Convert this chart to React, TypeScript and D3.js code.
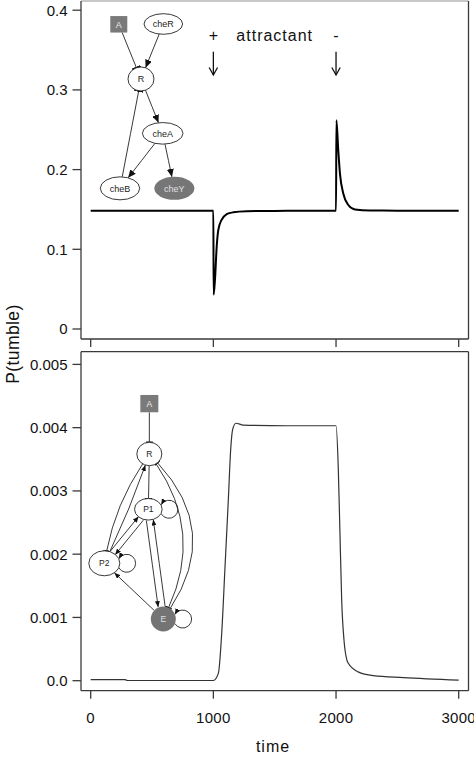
import * as d3 from 'd3';

const W = 474;
const H = 757;

// top panel: P(tumble) for the che network, attractant added at 1000, removed at 2000
const topTime = [0, 1000, 1002, 1013, 1027, 1040, 1067, 1108, 1162, 1271, 1500, 2000, 2003, 2018, 2032, 2059, 2100, 2154, 2276, 2500, 3000];
const topP = [0.1485, 0.1485, 0.043, 0.0615, 0.103, 0.124, 0.137, 0.144, 0.1464, 0.1477, 0.1482, 0.1485, 0.262, 0.2246, 0.195, 0.17, 0.1556, 0.15, 0.1486, 0.1485, 0.1485];

// bottom panel: P(tumble) for the evolved network
const botTime = [0, 280, 300, 1000, 1041, 1068, 1095, 1122, 1141, 1157, 1184, 1244, 1600, 2000, 2018, 2032, 2046, 2065, 2088, 2100, 2180, 2304, 2550, 3000];
const botP = [0.000016, 0.000016, 0.000003, 0.000003, 0.00012, 0.00075, 0.0018, 0.00286, 0.00365, 0.00397, 0.00407, 0.00404, 0.00403, 0.00403, 0.00338, 0.00233, 0.00128, 0.00064, 0.00033, 0.000275, 0.00014, 0.00008, 0.00005, 0.00001];

const xTicks = [0, 1000, 2000, 3000];
const xTickLabels = ['0', '1000', '2000', '3000'];
const topYTicks = [0, 0.1, 0.2, 0.3, 0.4];
const topYLabels = ['0', '0.1', '0.2', '0.3', '0.4'];
const botYTicks = [0, 0.001, 0.002, 0.003, 0.004, 0.005];
const botYLabels = ['0.0', '0.001', '0.002', '0.003', '0.004', '0.005'];

// network insets, node positions given in each panel's data units
const topNodeNames = ['A', 'cheR', 'R', 'cheA', 'cheB', 'cheY'];
const topNodeTime = [229, 592, 410, 587, 239, 682];
const topNodeP = [0.3823, 0.3827, 0.3137, 0.2455, 0.1765, 0.1765];
const topEdges: [string, string, string][] = [
	['A', 'R', 'inh'],
	['cheR', 'R', 'act'],
	['R', 'cheA', 'act'],
	['cheA', 'cheB', 'act'],
	['cheA', 'cheY', 'act'],
	['cheB', 'R', 'inh'],
];

const botNodeNames = ['A', 'R', 'P1', 'P2', 'E'];
const botNodeTime = [478, 478, 470, 111, 592];
const botNodeP = [0.00438, 0.003584, 0.00271, 0.001856, 0.000975];
const botEdges: [string, string, string][] = [
	['A', 'R', 'inh'],
	['R', 'P1', 'inh'],
	['R', 'P2', 'inh'],
	['P2', 'R', 'act'],
	['P2', 'P1', 'act'],
	['P1', 'P2', 'act'],
	['E', 'P2', 'act'],
	['P1', 'E', 'act'],
	['E', 'P1', 'act'],
	['R', 'E', 'inh'],
	['E', 'R', 'inh'],
];
const botLoops = ['P1', 'P2', 'E'];

// drawing style for the insets
const nodeStyle: Record<string, any> = {
	'top:A': { rect: true, w: 17, h: 16.5, fill: '#7a7a7a', color: '#eee' },
	'top:cheR': { rx: 19.3, ry: 10.3 },
	'top:R': { rx: 13, ry: 12 },
	'top:cheA': { rx: 20.3, ry: 10.8 },
	'top:cheB': { rx: 19.7, ry: 11.5 },
	'top:cheY': { rx: 20, ry: 11.5, fill: '#767676', color: '#e0e0e0' },
	'bot:A': { rect: true, w: 18, h: 17.3, fill: '#7a7a7a', color: '#eee' },
	'bot:R': { rx: 12.5, ry: 11.7 },
	'bot:P1': { rx: 13.8, ry: 10.8 },
	'bot:P2': { rx: 15.5, ry: 12.5 },
	'bot:E': { rx: 12.5, ry: 12.5, fill: '#747474', color: '#e0e0e0' },
};
// curvature / parallel offset per edge (pixels)
const edgeShape: Record<string, [number, number]> = {
	'R-P2': [12, 0],
	'P2-R': [3, 0],
	'P2-P1': [0, -3],
	'P1-P2': [0, -3],
	'P1-E': [0, 3.5],
	'E-P1': [0, 3.5],
	'R-E': [-47, 0],
	'E-R': [65, 0],
};

const FONT = 'Liberation Sans, Arial, sans-serif';

const x = d3.scaleLinear().domain([0, 3000]).range([90.7, 458.7]);
const yTop = d3.scaleLinear().domain([0, 0.4]).range([329, 10.2]);
const yBot = d3.scaleLinear().domain([0, 0.005]).range([680.7, 364.4]);

const topFrame = { x0: 81, x1: 468.5, y0: 1, y1: 339 };
const botFrame = { x0: 81, x1: 468.5, y0: 351.7, y1: 690.7 };

type Node = { name: string; cx: number; cy: number; st: any };

function rim(n: Node, cx: number, cy: number, dx: number, dy: number) {
	const len = Math.hypot(dx, dy) || 1;
	const ux = dx / len;
	const uy = dy / len;
	let k;
	if (n.st.rect) {
		k = Math.min(n.st.w / 2 / (Math.abs(ux) || 1e-6), n.st.h / 2 / (Math.abs(uy) || 1e-6));
	} else {
		k = 1 / Math.sqrt((ux / n.st.rx) ** 2 + (uy / n.st.ry) ** 2);
	}
	return [cx + ux * k, cy + uy * k];
}

function edgePath(s: Node, t: Node, bend: number, off: number) {
	const dx = t.cx - s.cx;
	const dy = t.cy - s.cy;
	const len = Math.hypot(dx, dy);
	const nx = -dy / len;
	const ny = dx / len;
	const sx = s.cx + nx * off;
	const sy = s.cy + ny * off;
	const tx = t.cx + nx * off;
	const ty = t.cy + ny * off;
	const qx = (sx + tx) / 2 + nx * bend;
	const qy = (sy + ty) / 2 + ny * bend;
	const p0 = rim(s, sx, sy, qx - sx, qy - sy);
	const p1 = rim(t, tx, ty, qx - tx, qy - ty);
	return `M${p0[0]},${p0[1]} Q${qx},${qy} ${p1[0]},${p1[1]}`;
}

const Network = ({
	prefix,
	names,
	times,
	values,
	y,
	edges,
	loops = [],
	fontSize,
}: {
	prefix: string;
	names: string[];
	times: number[];
	values: number[];
	y: d3.ScaleLinear<number, number>;
	edges: [string, string, string][];
	loops?: string[];
	fontSize: number;
}) => {
	const nodes: Record<string, Node> = {};
	names.forEach((name, i) => {
		nodes[name] = { name, cx: x(times[i]), cy: y(values[i]), st: nodeStyle[`${prefix}:${name}`] };
	});
	return (
		<g>
			{edges.map(([s, t, kind]) => {
				const [bend, off] = edgeShape[`${s}-${t}`] || [0, 0];
				return (
					<path
						key={`${s}-${t}`}
						d={edgePath(nodes[s], nodes[t], bend, off)}
						fill="none"
						stroke="#222"
						strokeWidth={0.9}
						markerEnd={`url(#${prefix}-${kind})`}
					/>
				);
			})}
			{loops.map((name) => {
				const n = nodes[name];
				const bx = n.cx + n.st.rx - 1;
				return (
					<path
						key={`loop-${name}`}
						d={`M${bx},${n.cy + 4.5} A9,9 0 1 0 ${bx},${n.cy - 4.5}`}
						fill="none"
						stroke="#222"
						strokeWidth={0.9}
						markerEnd={`url(#${prefix}-act)`}
					/>
				);
			})}
			{Object.values(nodes).map((n) =>
				n.st.rect ? (
					<g key={n.name}>
						<rect x={n.cx - n.st.w / 2} y={n.cy - n.st.h / 2} width={n.st.w} height={n.st.h} fill={n.st.fill} />
						<text x={n.cx} y={n.cy} dy="0.36em" textAnchor="middle" fontSize={fontSize} fontFamily={FONT} fill={n.st.color}>
							{n.name}
						</text>
					</g>
				) : (
					<g key={n.name}>
						<ellipse
							cx={n.cx}
							cy={n.cy}
							rx={n.st.rx}
							ry={n.st.ry}
							fill={n.st.fill || '#fff'}
							stroke={n.st.fill ? 'none' : '#222'}
							strokeWidth={0.9}
						/>
						<text x={n.cx} y={n.cy} dy="0.36em" textAnchor="middle" fontSize={fontSize} fontFamily={FONT} fill={n.st.color || '#222'}>
							{n.name}
						</text>
					</g>
				)
			)}
		</g>
	);
};

const Frame = ({ f, light }: { f: typeof topFrame; light?: boolean }) => (
	<g stroke="#3a3a3a" strokeWidth={1.3} fill="none">
		<line x1={f.x0} x2={f.x1} y1={f.y0} y2={f.y0} stroke={light ? '#c8c8c8' : '#3a3a3a'} strokeWidth={light ? 2 : 1.3} />
		<line x1={f.x0} x2={f.x1} y1={f.y1} y2={f.y1} />
		<line x1={f.x0} x2={f.x0} y1={f.y0} y2={f.y1} />
		<line x1={f.x1} x2={f.x1} y1={f.y0} y2={f.y1} />
	</g>
);

const YAxis = ({ ticks, labels, y, frame }: { ticks: number[]; labels: string[]; y: d3.ScaleLinear<number, number>; frame: typeof topFrame }) => (
	<g>
		{ticks.map((t, i) => (
			<g key={t}>
				<line x1={frame.x0 - 8.5} x2={frame.x0} y1={y(t)} y2={y(t)} stroke="#3a3a3a" strokeWidth={1.3} />
				<text x={67.5} y={y(t)} dy="0.36em" textAnchor="end" fontSize={15} fontFamily={FONT} fill="#111">
					{labels[i]}
				</text>
			</g>
		))}
	</g>
);

const XAxis = ({ frame, labels }: { frame: typeof topFrame; labels?: string[] }) => (
	<g>
		{xTicks.map((t, i) => (
			<g key={t}>
				<line x1={x(t)} x2={x(t)} y1={frame.y1} y2={frame.y1 + 8} stroke="#3a3a3a" strokeWidth={1.3} />
				{labels && (
					<text x={x(t)} y={frame.y1 + 32.5} textAnchor="middle" fontSize={15} fontFamily={FONT} fill="#111" letterSpacing={0.3}>
						{labels[i]}
					</text>
				)}
			</g>
		))}
	</g>
);

const DownArrow = ({ t }: { t: number }) => (
	<g stroke="#111" strokeWidth={1.3} fill="none">
		<line x1={x(t)} x2={x(t)} y1={51.7} y2={75} />
		<path d={`M${x(t) - 4.2},${67.5} L${x(t)},${75} L${x(t) + 4.2},${67.5}`} />
	</g>
);

export default function App() {
	const topLine = d3
		.line<number>()
		.x((_, i) => x(topTime[i]))
		.y((d) => yTop(d))
		.curve(d3.curveMonotoneX);
	const botLine = d3
		.line<number>()
		.x((_, i) => x(botTime[i]))
		.y((d) => yBot(d))
		.curve(d3.curveMonotoneX);

	return (
		<svg width={W} height={H} style={{ position: 'absolute', left: 0, top: 0, background: '#fff' }}>
			<defs>
				<marker id="top-act" viewBox="0 0 8 7" refX={8} refY={3.5} markerWidth={8} markerHeight={7} markerUnits="userSpaceOnUse" orient="auto">
					<path d="M0,0 L8,3.5 L0,7 z" fill="#111" />
				</marker>
				<marker id="top-inh" viewBox="0 0 2 9" refX={1} refY={4.5} markerWidth={2} markerHeight={9} markerUnits="userSpaceOnUse" orient="auto">
					<rect x={0} y={0} width={2} height={9} fill="#111" />
				</marker>
				<marker id="bot-act" viewBox="0 0 6 5" refX={6} refY={2.5} markerWidth={6} markerHeight={5} markerUnits="userSpaceOnUse" orient="auto">
					<path d="M0,0 L6,2.5 L0,5 z" fill="#111" />
				</marker>
				<marker id="bot-inh" viewBox="0 0 1.6 7" refX={0.8} refY={3.5} markerWidth={1.6} markerHeight={7} markerUnits="userSpaceOnUse" orient="auto">
					<rect x={0} y={0} width={1.6} height={7} fill="#111" />
				</marker>
			</defs>

			{/* top panel */}
			<Frame f={topFrame} light />
			<YAxis ticks={topYTicks} labels={topYLabels} y={yTop} frame={topFrame} />
			<XAxis frame={topFrame} />
			<path d={topLine(topP) || ''} fill="none" stroke="#000" strokeWidth={2} />
			<Network prefix="top" names={topNodeNames} times={topNodeTime} values={topNodeP} y={yTop} edges={topEdges} fontSize={9} />
			<text x={x(1000)} y={40.5} textAnchor="middle" fontSize={16} fontFamily={FONT} fill="#111">
				+
			</text>
			<text x={x(1500)} y={40.5} textAnchor="middle" fontSize={16} fontFamily={FONT} fill="#111" letterSpacing={1}>
				attractant
			</text>
			<text x={x(2000)} y={40.5} textAnchor="middle" fontSize={16} fontFamily={FONT} fill="#111">
				-
			</text>
			<DownArrow t={1000} />
			<DownArrow t={2000} />

			{/* bottom panel */}
			<Frame f={botFrame} />
			<YAxis ticks={botYTicks} labels={botYLabels} y={yBot} frame={botFrame} />
			<XAxis frame={botFrame} labels={xTickLabels} />
			<path d={botLine(botP) || ''} fill="none" stroke="#333" strokeWidth={1.2} />
			<Network prefix="bot" names={botNodeNames} times={botNodeTime} values={botNodeP} y={yBot} edges={botEdges} loops={botLoops} fontSize={8.5} />

			{/* axis titles */}
			<text
				transform={`translate(18.5, 344) rotate(-90)`}
				textAnchor="middle"
				fontSize={17.5}
				fontFamily={FONT}
				fill="#111"
				letterSpacing={0.4}
			>
				P(tumble)
			</text>
			<text x={273} y={751.5} textAnchor="middle" fontSize={16} fontFamily={FONT} fill="#111" letterSpacing={1}>
				time
			</text>
		</svg>
	);
}
